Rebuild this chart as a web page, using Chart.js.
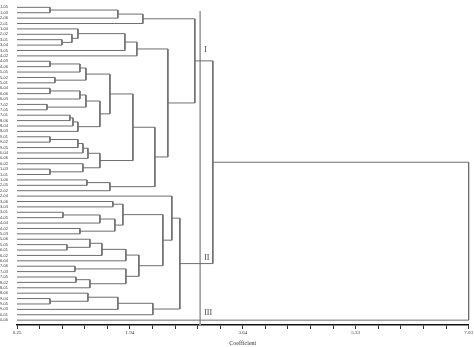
<!DOCTYPE html>
<html>
<head>
<meta charset="utf-8">
<script src="https://cdn.jsdelivr.net/npm/chart.js@4.4.1/dist/chart.umd.min.js"></script>
<style>
  html, body { margin: 0; padding: 0; background: #fff; }
  canvas { display: block; }
</style>
</head>
<body>
<canvas id="dendro" width="474" height="347"></canvas>
<script>
// leaves, top to bottom
const leafLabels = [
  "S-01-05", "T-01-03", "T-02-06", "S-02-01", "E-01-04", "E-02-02", "T-03-01", "S-03-04",
  "E-03-05", "T-04-02", "S-04-03", "E-04-06", "T-05-05", "S-05-02", "E-05-01", "T-06-04",
  "S-06-06", "E-06-03", "T-07-02", "S-07-05", "E-07-01", "T-08-06", "S-08-04", "E-08-03",
  "T-09-01", "S-09-02", "E-09-05", "T-10-04", "S-10-06", "E-10-02", "T-11-03", "S-11-01",
  "E-11-06", "T-12-05", "S-12-02", "E-12-04", "T-13-06", "S-13-03", "E-13-01", "T-14-05",
  "S-14-04", "E-14-02", "T-15-03", "S-15-06", "E-15-05", "T-16-01", "S-16-02", "E-16-04",
  "T-17-06", "S-17-03", "E-17-05", "T-18-02", "S-18-01", "E-18-06", "T-19-04", "S-19-05",
  "E-19-03", "T-20-01", "S-20-06"
];

// merges: ids 0..58 are leaves, merge k gets id 59 + k
const mergeA = [0, 59, 60, 6, 5, 4, 64, 65, 10, 67, 13, 68, 15, 71, 18, 72, 20, 75, 76, 74, 70,
  24, 80, 81, 82, 30, 29, 83, 79, 32, 88, 87, 66, 61, 36, 38, 94, 41, 95, 93, 44, 43, 100, 101,
  48, 50, 104, 103, 102, 98, 35, 54, 53, 111, 112, 109, 92, 115];
const mergeB = [1, 2, 3, 7, 62, 63, 8, 9, 11, 12, 14, 69, 16, 17, 19, 73, 21, 22, 23, 77, 78,
  25, 26, 27, 28, 31, 84, 85, 86, 33, 34, 89, 90, 91, 37, 39, 40, 42, 96, 97, 45, 99, 46, 47,
  49, 51, 52, 105, 106, 107, 108, 55, 110, 56, 57, 113, 114, 58];
const mergeHeight = [0.745, 1.765, 2.14, 0.925, 1.075, 1.165, 1.87, 2.05, 0.745, 1.195, 0.82,
  1.285, 0.745, 1.195, 0.70, 1.285, 1.045, 1.09, 1.165, 1.495, 1.645, 0.745, 1.165, 1.24, 1.315,
  0.745, 1.24, 1.495, 1.99, 1.30, 1.645, 2.32, 2.515, 2.92, 1.69, 0.94, 1.495, 1.195, 1.72, 1.84,
  1.0, 1.345, 1.525, 1.885, 1.12, 1.135, 1.345, 1.885, 2.08, 2.44, 2.575, 0.745, 1.315, 1.765,
  2.29, 2.695, 3.19, 7.03];

const axisMin = 0.25;
const axisMax = 7.03;
const xTickValues = [0.25, 1.945, 3.64, 5.335, 7.03];
const xTickLabels = ["0.25", "1.94", "3.64", "5.33", "7.03"];

const cutLevel = 3.0;
const clusterNames = ["I", "II", "III"];
const clusterRows = [7.9, 46.4, 56.7];

// row and height of every node
const nodeRow = leafLabels.map((_, i) => i);
const nodeHeight = leafLabels.map(() => axisMin);
mergeA.forEach((a, k) => {
  nodeRow.push((nodeRow[a] + nodeRow[mergeB[k]]) / 2);
  nodeHeight.push(mergeHeight[k]);
});

const lineStyle = {
  showLine: true,
  borderColor: "#6e6e6e",
  borderWidth: 1,
  pointRadius: 0,
  clip: false,
};

const datasets = mergeA.map((a, k) => {
  const b = mergeB[k];
  const h = mergeHeight[k];
  return {
    ...lineStyle,
    data: [
      { x: nodeHeight[a], y: nodeRow[a] },
      { x: h, y: nodeRow[a] },
      { x: h, y: nodeRow[b] },
      { x: nodeHeight[b], y: nodeRow[b] },
    ],
  };
});

// cut line
datasets.push({
  ...lineStyle,
  borderColor: "#a0a0a0",
  data: [{ x: cutLevel, y: 0.7 }, { x: cutLevel, y: 58.9 }],
});

// CLUSTER NAMES NEXT TO THE CUT
const clusterText = {
  id: "clusterText",
  afterDatasetsDraw(chart) {
    const { ctx, scales: { x, y } } = chart;
    ctx.save();
    ctx.font = '8px "Liberation Serif"';
    ctx.fillStyle = "#444";
    ctx.textBaseline = "middle";
    clusterNames.forEach((name, i) => {
      ctx.fillText(name, x.getPixelForValue(cutLevel) + 4, y.getPixelForValue(clusterRows[i]));
    });
    ctx.restore();
  },
};

new Chart(document.getElementById("dendro"), {
  type: "scatter",
  data: { datasets },
  options: {
    responsive: false,
    animation: false,
    devicePixelRatio: 1,
    layout: { padding: { top: 0, right: 5, left: 0, bottom: 0 } },
    plugins: { legend: { display: false }, tooltip: { enabled: false } },
    scales: {
      x: {
        type: "linear",
        min: axisMin,
        max: axisMax,
        afterBuildTicks: (axis) => {
          const t = [];
          xTickValues.forEach((v, i) => {
            t.push({ value: v });
            if (i < xTickValues.length - 1) {
              const step = (xTickValues[i + 1] - v) / 5;
              for (let m = 1; m < 5; m++) t.push({ value: v + step * m });
            }
          });
          axis.ticks = t;
        },
        afterFit: (axis) => { axis.height = 22; },
        ticks: {
          autoSkip: false,
          maxRotation: 0,
          padding: 1,
          color: "#333",
          font: { family: "Liberation Serif", size: 5 },
          callback: (value) => {
            const i = xTickValues.indexOf(value);
            return i >= 0 ? xTickLabels[i] : "";
          },
        },
        grid: { drawOnChartArea: false, tickLength: 4, color: "#333" },
        border: { color: "#111", width: 1.5 },
        title: {
          display: true,
          text: "Coefficient",
          color: "#333",
          font: { family: "Liberation Serif", size: 6 },
          padding: { top: 0, bottom: 0 },
        },
      },
      y: {
        type: "linear",
        reverse: true,
        min: -0.73,
        max: 58.9,
        afterBuildTicks: (axis) => {
          axis.ticks = leafLabels.map((_, i) => ({ value: i }));
        },
        afterFit: (axis) => { axis.width = 17; },
        ticks: {
          autoSkip: false,
          padding: 1,
          color: "#444",
          font: { family: "Liberation Sans", size: 4 },
          callback: (value) => leafLabels[value] ?? "",
        },
        grid: { display: false },
        border: { display: false },
      },
    },
  },
  plugins: [clusterText],
});
</script>
</body>
</html>
